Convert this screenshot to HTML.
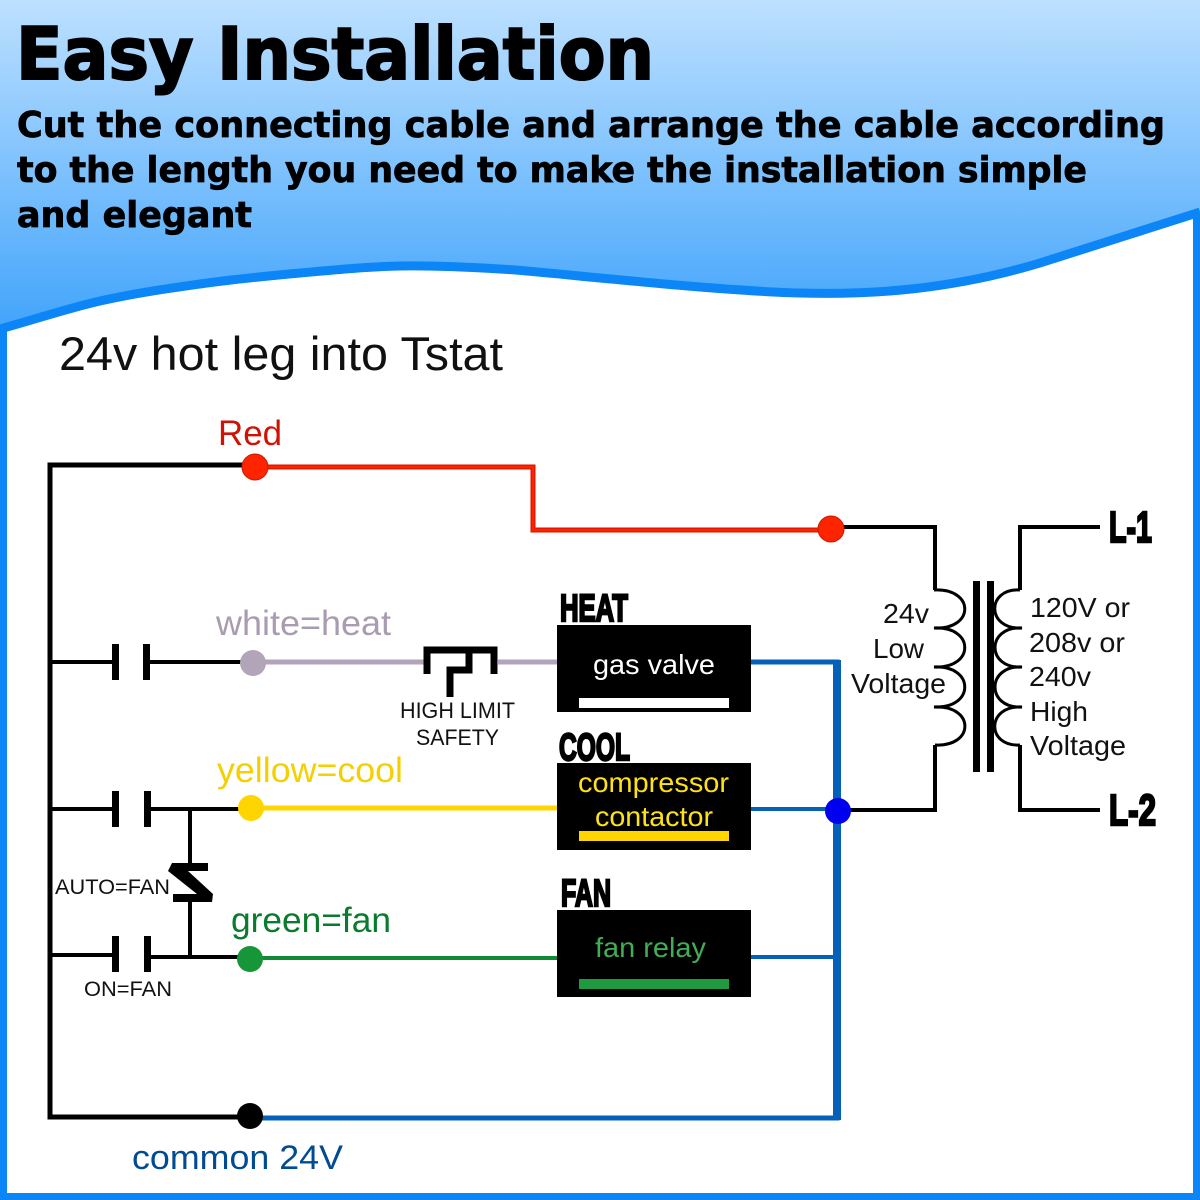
<!DOCTYPE html>
<html><head><meta charset="utf-8"><style>
html,body{margin:0;padding:0;background:#fff}
svg{display:block}
text{font-family:"Liberation Sans",sans-serif}
.h{font-family:"DejaVu Sans",sans-serif;font-weight:700;fill:#000;stroke:#000;paint-order:stroke}
.imp{font-weight:700;fill:#000;stroke:#000;stroke-width:2.4}
</style></head><body>
<svg xmlns="http://www.w3.org/2000/svg" width="1200" height="1200" viewBox="0 0 1200 1200">
<defs><linearGradient id="g" x1="0" y1="0" x2="0" y2="1"><stop offset="0" stop-color="#bde0ff"/><stop offset="1" stop-color="#40a3fb"/></linearGradient></defs>
<rect width="1200" height="1200" fill="#fff"/>
<rect width="1200" height="335" fill="url(#g)"/>
<path d="M0 329 C33 320 67 308.5 100 301 C133 293.5 167 288.7 200 284 C233 279.3 267 276 300 273 C333 270 367 266.7 400 266 C433 265.3 467 267 500 269 C533 271 567 275 600 278 C633 281 667 284.5 700 287 C733 289.5 767 292.3 800 293 C870 295 950 290 1040 263 C1090 247 1150 228 1200 212 V1200 H0 Z" fill="#fff" stroke="none"/>
<path d="M0 329 C33 320 67 308.5 100 301 C133 293.5 167 288.7 200 284 C233 279.3 267 276 300 273 C333 270 367 266.7 400 266 C433 265.3 467 267 500 269 C533 271 567 275 600 278 C633 281 667 284.5 700 287 C733 289.5 767 292.3 800 293 C870 295 950 290 1040 263 C1090 247 1150 228 1200 212" fill="none" stroke="#0c86f7" stroke-width="9"/>
<path d="M3.5 329 V1196.5 H1196.5 V212" fill="none" stroke="#0c86f7" stroke-width="7"/>

<text class="h" x="16" y="79" font-size="72" stroke-width="2" textLength="638" lengthAdjust="spacingAndGlyphs">Easy Installation</text>
<text class="h" x="17" y="137" font-size="36" stroke-width=".8" textLength="1148" lengthAdjust="spacingAndGlyphs">Cut the connecting cable and arrange the cable according</text>
<text class="h" x="17" y="182" font-size="36" stroke-width=".8" textLength="1070" lengthAdjust="spacingAndGlyphs">to the length you need to make the installation simple</text>
<text class="h" x="17" y="227" font-size="36" stroke-width=".8" textLength="235" lengthAdjust="spacingAndGlyphs">and elegant</text>

<text x="59" y="370" font-size="47" fill="#111" textLength="444" lengthAdjust="spacingAndGlyphs">24v hot leg into Tstat</text>

<!-- black wires -->
<g fill="none" stroke="#000" stroke-width="4">
<path d="M255 465 H50 V1117 H250" stroke-width="5"/>
<path d="M50 662 H113 M148 662 H253"/>
<path d="M50 809 H113 M148 809 H250"/>
<path d="M50 955 H113 M148 957 H250"/>
<path d="M190 809 V864 M190 902 V957"/>
<path d="M830 527 H935 V590 M935 745 V810 H838"/>
<path d="M1100 527 H1020 V590 M1020 745 V810 H1100"/>
</g>
<g fill="none" stroke="#000" stroke-width="3">
<path d="M934 590 C975 588 975 630 934 628 C975 626 975 669 934 667 C975 665 975 709 934 707 C975 705 975 747 935 745"/>
<path d="M1020 590 C986 588 986 630 1022 628 C986 626 986 669 1022 667 C986 665 986 709 1022 707 C986 705 986 747 1020 745"/>
</g>
<g fill="#000">
<rect x="112" y="644" width="7" height="36"/><rect x="143" y="644" width="7" height="36"/>
<rect x="112" y="791" width="7" height="36"/><rect x="144" y="791" width="7" height="36"/>
<rect x="112" y="936" width="7" height="36"/><rect x="144" y="936" width="7" height="36"/>
<rect x="973" y="581" width="7" height="191"/><rect x="987" y="581" width="7" height="191"/>
</g>
<polygon points="172,863 208,863 208,871 188,871 213,894 212,902 173,902 173,894 197,894 168,871" fill="#000"/>

<!-- colored wires -->
<path d="M255 467 H533 V530 H830" fill="none" stroke="#d81400" stroke-width="5"/>
<path d="M255 467 H533 V530 H830" fill="none" stroke="#ff2400" stroke-width="2.5"/>
<path d="M253 662 H424 M498 662 H557" fill="none" stroke="#b3a5b9" stroke-width="5"/>
<path d="M250 808 H557" fill="none" stroke="#ffd500" stroke-width="5"/>
<path d="M250 958 H557" fill="none" stroke="#118a35" stroke-width="4"/>
<g fill="none" stroke="#0460b8">
<path d="M750 662 H837 V1118 H262" stroke-width="5"/>
<path d="M837 660 V1120" stroke-width="8"/>
<path d="M750 809 H835 M750 957 H835" stroke-width="4"/>
</g>

<!-- high limit -->
<path d="M427 674 V650 H494 V674 M469 650 V670 H450 V697" fill="none" stroke="#000" stroke-width="7"/>

<!-- boxes -->
<rect x="557" y="625" width="194" height="87" fill="#000"/>
<rect x="557" y="763" width="194" height="87" fill="#000"/>
<rect x="557" y="910" width="194" height="87" fill="#000"/>
<rect x="579" y="698" width="150" height="10" fill="#fff"/>
<rect x="579" y="831" width="150" height="10" fill="#ffd500"/>
<rect x="579" y="979" width="150" height="10" fill="#1f9a3f"/>

<!-- nodes -->
<circle cx="255" cy="467" r="13" fill="#ff2400" stroke="#c51a00"/>
<circle cx="831" cy="529" r="13" fill="#ff2400" stroke="#c51a00"/>
<circle cx="253" cy="663" r="13" fill="#b3a5b9"/>
<circle cx="251" cy="808" r="13" fill="#ffd500"/>
<circle cx="250" cy="959" r="13" fill="#169638"/>
<circle cx="250" cy="1116" r="13" fill="#000"/>
<circle cx="838" cy="811" r="13" fill="#0000f0"/>

<!-- labels -->
<text x="218" y="445" font-size="35" fill="#cf1204" textLength="64" lengthAdjust="spacingAndGlyphs">Red</text>
<text x="216" y="635" font-size="35" fill="#a99bb0" textLength="175" lengthAdjust="spacingAndGlyphs">white=heat</text>
<text x="217" y="782" font-size="35" fill="#f5cf00" textLength="186" lengthAdjust="spacingAndGlyphs">yellow=cool</text>
<text x="231" y="932" font-size="35" fill="#0a7a2c" textLength="160" lengthAdjust="spacingAndGlyphs">green=fan</text>
<text x="132" y="1169" font-size="34" fill="#004c92" textLength="211" lengthAdjust="spacingAndGlyphs">common 24V</text>
<text x="55" y="894" font-size="21" fill="#111" textLength="115" lengthAdjust="spacingAndGlyphs">AUTO=FAN</text>
<text x="84" y="996" font-size="21" fill="#111" textLength="88" lengthAdjust="spacingAndGlyphs">ON=FAN</text>
<text x="400" y="718" font-size="22" fill="#111" textLength="115" lengthAdjust="spacingAndGlyphs">HIGH LIMIT</text>
<text x="416" y="745" font-size="22" fill="#111" textLength="83" lengthAdjust="spacingAndGlyphs">SAFETY</text>

<text x="593" y="674" font-size="28" fill="#fff" textLength="122" lengthAdjust="spacingAndGlyphs">gas valve</text>
<text x="578" y="792" font-size="28" fill="#ffe11a" textLength="151" lengthAdjust="spacingAndGlyphs">compressor</text>
<text x="595" y="826" font-size="28" fill="#ffe11a" textLength="118" lengthAdjust="spacingAndGlyphs">contactor</text>
<text x="595" y="957" font-size="28" fill="#3fae55" textLength="111" lengthAdjust="spacingAndGlyphs">fan relay</text>

<text class="imp" x="560" y="621" font-size="38" textLength="68" lengthAdjust="spacingAndGlyphs">HEAT</text>
<text class="imp" x="559" y="760" font-size="38" textLength="71" lengthAdjust="spacingAndGlyphs">COOL</text>
<text class="imp" x="561" y="906" font-size="38" textLength="50" lengthAdjust="spacingAndGlyphs">FAN</text>
<text class="imp" x="1109" y="542" font-size="44" textLength="43" lengthAdjust="spacingAndGlyphs">L-1</text>
<text class="imp" x="1109" y="825" font-size="44" textLength="47" lengthAdjust="spacingAndGlyphs">L-2</text>

<g font-size="28" fill="#111">
<text x="883" y="623" textLength="46" lengthAdjust="spacingAndGlyphs">24v</text>
<text x="873" y="658" textLength="51" lengthAdjust="spacingAndGlyphs">Low</text>
<text x="851" y="693" textLength="95" lengthAdjust="spacingAndGlyphs">Voltage</text>
<text x="1030" y="617" textLength="100" lengthAdjust="spacingAndGlyphs">120V or</text>
<text x="1029" y="652" textLength="96" lengthAdjust="spacingAndGlyphs">208v or</text>
<text x="1029" y="686" textLength="62" lengthAdjust="spacingAndGlyphs">240v</text>
<text x="1030" y="721" textLength="58" lengthAdjust="spacingAndGlyphs">High</text>
<text x="1030" y="755" textLength="96" lengthAdjust="spacingAndGlyphs">Voltage</text>
</g>
</svg>
</body></html>
